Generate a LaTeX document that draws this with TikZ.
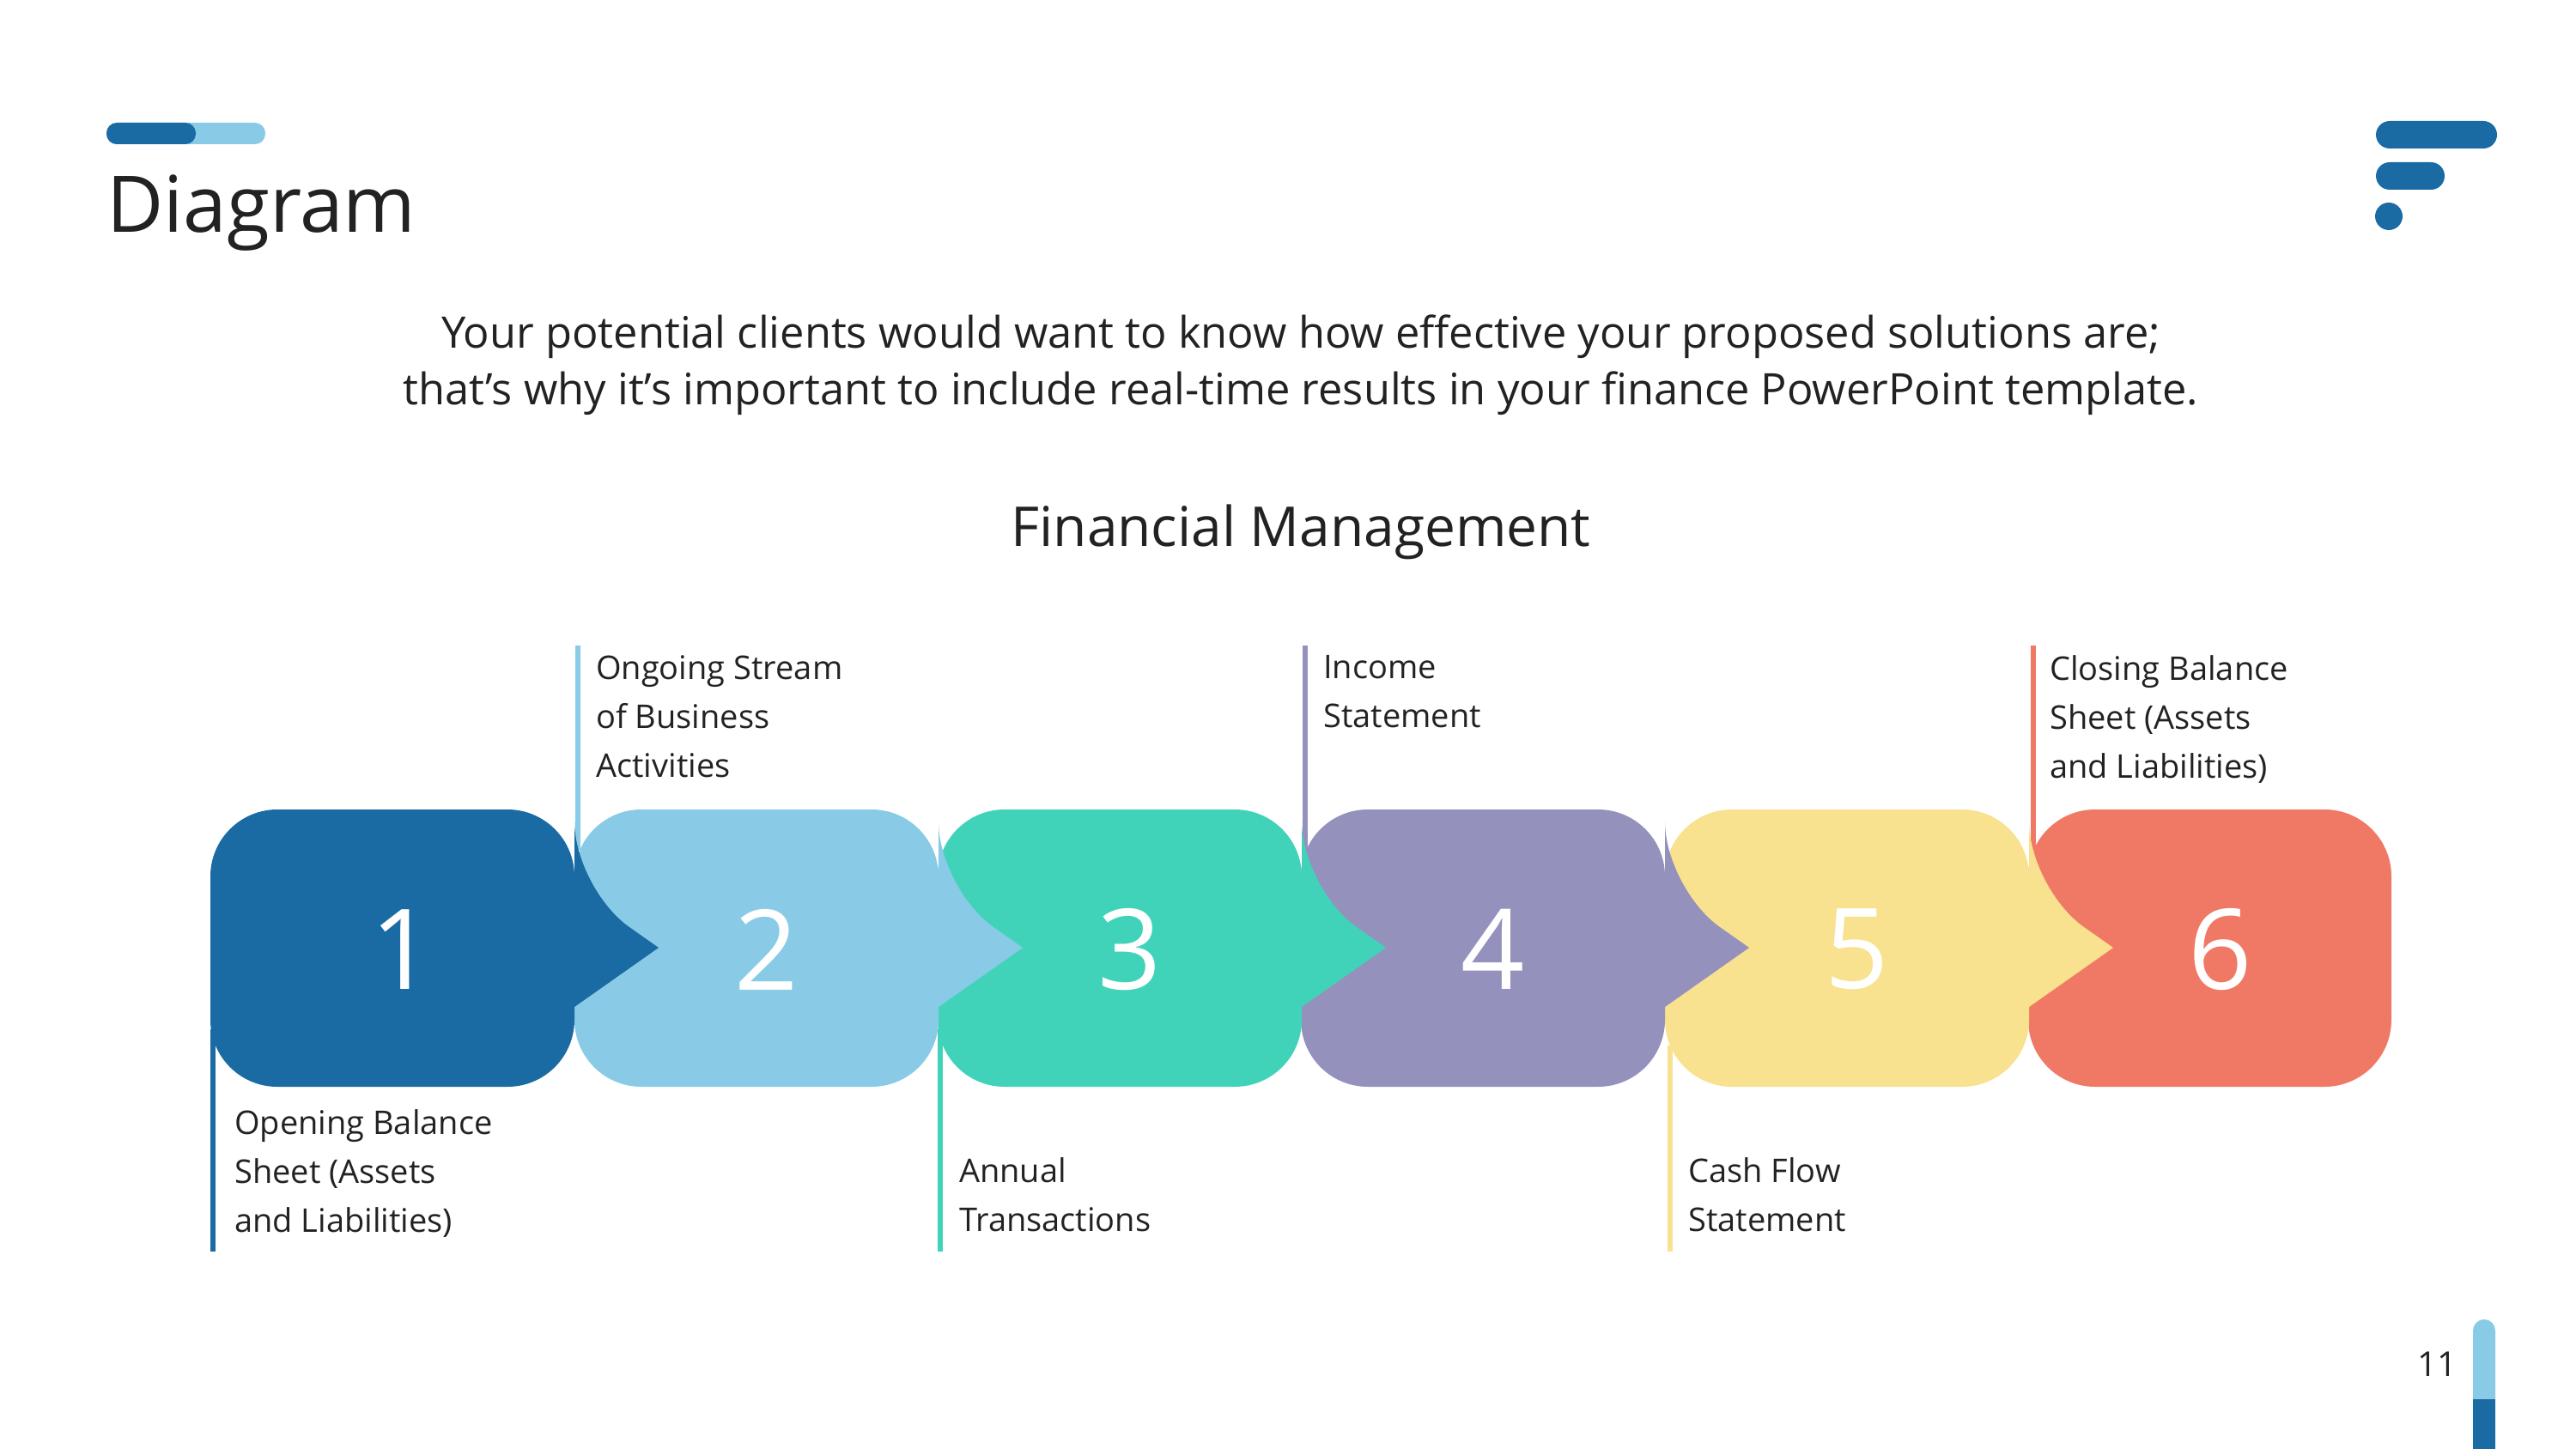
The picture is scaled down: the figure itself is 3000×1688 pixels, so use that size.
\documentclass[tikz,border=0pt]{standalone}
\usepackage{fontspec}
\setmainfont{Open Sans}
\definecolor{cA}{HTML}{1A6BA3}
\definecolor{cB}{HTML}{89CBE6}
\definecolor{cC}{HTML}{41D3BA}
\definecolor{cD}{HTML}{9491BC}
\definecolor{cE}{HTML}{F8E18F}
\definecolor{cF}{HTML}{F07966}
\definecolor{ink}{HTML}{222222}
\tikzset{
  lbl/.style={anchor=north west,align=left,text=ink,font=\fontsize{38}{57}\selectfont,inner sep=0pt},
  num/.style={text=white,font=\fontsize{130}{140}\selectfont},
  vline/.style={line width=6pt}
}
\newcommand{\tile}[3]{%
  \fill[#2,rounded corners=78] (#1,1104) -- (#1,943) -- ({#1+424},943) -- ({#1+424},1035) [sharp corners]-- ({#1+522},1104) -- ({#1+424},1173) [rounded corners=78]-- ({#1+424},1266) -- (#1,1266) -- cycle;
  \node[num] (n#3) at ({#1+224},1106) {#3};}
\begin{document}
\begin{tikzpicture}[x=1pt,y=-1pt]
\useasboundingbox (0,0) rectangle (3000,1688);
% header
\fill[cB,rounded corners=12] (124,143) rectangle (309,168);
\fill[cA,rounded corners=12] (124,143) rectangle (228,168);
\fill[cA] (205,143) rectangle (216,168);
\node[anchor=base west,inner sep=0pt,text=ink,font=\fontsize{91}{100}\selectfont] (title) at (124,271) {Diagram};
\fill[cA,rounded corners=16] (2767,141) rectangle (2908,173);
\fill[cA,rounded corners=16] (2767,189) rectangle (2847,221);
\fill[cA] (2782,252) circle (16);
\node[align=center,text=ink,font=\fontsize{50.6}{66}\selectfont] (sub) at (1515,425) {Your potential clients would want to know how effective your proposed solutions are;\\ that’s why it’s important to include real-time results in your finance PowerPoint template.};
\node[text=ink,font=\fontsize{64}{70}\selectfont] (head) at (1515,620) {Financial Management};
% lines
\draw[vline,cA] (248,1199) -- (248,1458);
\draw[vline,cB] (673,752) -- (673,990);
\draw[vline,cC] (1095,1199) -- (1095,1458);
\draw[vline,cD] (1520,752) -- (1520,1025);
\draw[vline,cE] (1945,1218) -- (1945,1458);
\draw[vline,cF] (2368,752) -- (2368,990);
% tiles
\fill[cF,rounded corners=78] (2362,943) rectangle (2785,1266);
\node[num] (n6) at (2586,1106) {6};
\tile{1939}{cE}{5}
\tile{1515}{cD}{4}
\tile{1092}{cC}{3}
\tile{669}{cB}{2}
\tile{245}{cA}{1}
% labels
\node[lbl] (l1) at (273,1292) {Opening Balance\\Sheet (Assets\\and Liabilities)};
\node[lbl] (l2) at (694,763) {Ongoing Stream\\of Business\\Activities};
\node[lbl] (l3) at (1117,1348) {Annual\\Transactions};
\node[lbl] (l4) at (1541,763) {Income\\Statement};
\node[lbl] (l5) at (1966,1348) {Cash Flow\\Statement};
\node[lbl] (l6) at (2387,763) {Closing Balance\\Sheet (Assets\\and Liabilities)};
% footer
\node[text=ink,font=\fontsize{40}{44}\selectfont] (pg) at (2838,1589) {11};
\fill[cB,rounded corners=13] (2880,1537) rectangle (2906,1700);
\fill[cA] (2880,1630) rectangle (2906,1688);
\end{tikzpicture}
\end{document}
